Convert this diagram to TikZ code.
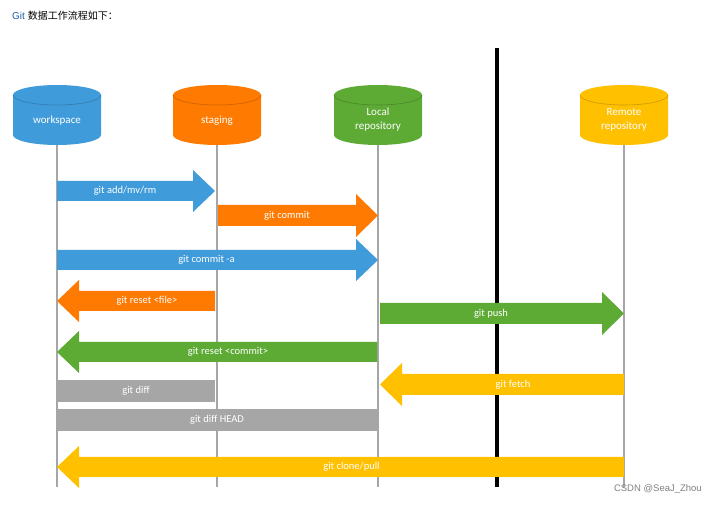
\documentclass[tikz,border=0pt]{standalone}
\usepackage{fontspec}
\setmainfont{Carlito}
\newfontfamily\cjk{Noto Sans CJK SC}
\newfontfamily\lsans{Liberation Sans}
\definecolor{cblue}{HTML}{3F9BDA}
\definecolor{corange}{HTML}{FF7A00}
\definecolor{cgreen}{HTML}{5DAA35}
\definecolor{cyellow}{HTML}{FFC000}
\definecolor{cgray}{HTML}{A6A6A6}
\definecolor{tblue}{HTML}{1F5FA8}
\tikzset{lbl/.style={text=white,font=\fontsize{10.5}{12}\selectfont},
 vline/.style={cgray,line width=2.5pt}}
% right arrow: x1,x2,ytop,ybot,color,label
\newcommand{\rarr}[6]{%
 \fill[#5] (#1,-#3) -- (#2-22,-#3) -- (#2-22,-#3+11) -- (#2,-#3/2-#4/2) -- (#2-22,-#4-11) -- (#2-22,-#4) -- (#1,-#4) -- cycle;
 \node[lbl] at ({(#1+#2-22)/2},-#3/2-#4/2) {#6};}
\newcommand{\larr}[6]{%
 \fill[#5] (#2,-#3) -- (#1+22,-#3) -- (#1+22,-#3+11) -- (#1,-#3/2-#4/2) -- (#1+22,-#4-11) -- (#1+22,-#4) -- (#2,-#4) -- cycle;
 \node[lbl] at ({(#1+#2+22)/2},-#3/2-#4/2) {#6};}
\newcommand{\cyl}[4]{%
 \fill[#2] (#1-44,-95) -- (#1-44,-135) arc[start angle=180,end angle=360,x radius=44,y radius=10] -- (#1+44,-95) arc[start angle=0,end angle=180,x radius=44,y radius=10] -- cycle;
 \draw[#2!80!black,line width=0.6pt] (#1-44,-95) arc[start angle=180,end angle=360,x radius=44,y radius=10];
 \node[lbl,align=center,font=\fontsize{11}{14}\selectfont] at (#1,-#3) {#4};}
\begin{document}
\begin{tikzpicture}[x=1pt,y=1pt]
\useasboundingbox (0,0) rectangle (716,-505);
\fill[white] (0,0) rectangle (716,-505);
\node[anchor=west,inner sep=0,font=\fontsize{10}{12}\selectfont] at (12,-16) {\lsans\textcolor{tblue}{Git} \cjk 数据工作流程如下：};
\draw[vline] (57,-140) -- (57,-487);
\draw[vline] (217,-140) -- (217,-487);
\draw[vline] (378,-140) -- (378,-487);
\draw[vline] (624,-140) -- (624,-487);
\draw[black,line width=3.5pt] (497,-48) -- (497,-487);
\cyl{57}{cblue}{121}{workspace}
\cyl{217}{corange}{121}{staging}
\cyl{378}{cgreen}{120}{Local\\repository}
\cyl{624}{cyellow}{120}{Remote\\repository}
\rarr{57}{215}{181}{201}{cblue}{git add/mv/rm}
\rarr{218}{378}{205}{226}{corange}{git commit}
\rarr{57}{378}{250}{270}{cblue}{git commit -a}
\larr{57}{215}{291}{311}{corange}{git reset <file>}
\rarr{380}{624}{303}{324}{cgreen}{git push}
\larr{57}{377}{342}{362}{cgreen}{git reset <commit>}
\larr{380}{624}{374}{395}{cyellow}{git fetch}
\fill[cgray] (57,-380) rectangle (215,-402);
\node[lbl] at (136,-391) {git diff};
\fill[cgray] (57,-409) rectangle (377,-431);
\node[lbl] at (217,-420) {git diff HEAD};
\larr{57}{624}{457}{477}{cyellow}{git clone/pull}
\node[anchor=east,inner sep=0,text=gray,font=\lsans\fontsize{9.5}{11}\selectfont] at (702,-489) {CSDN @SeaJ\_Zhou};
\end{tikzpicture}
\end{document}
